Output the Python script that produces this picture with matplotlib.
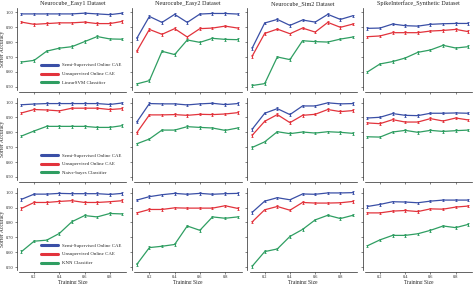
import matplotlib.pyplot as plt
import seaborn as sns
from matplotlib.lines import Line2D

sns.set_style("ticks")
plt.rcParams['font.family'] = ['Liberation Serif', 'DejaVu Serif']

training_size = [0.1, 0.2, 0.3, 0.4, 0.5, 0.6, 0.7, 0.8, 0.9]
datasets = ["Neurocube_Easy1 Dataset", "Neurocube_Easy2 Dataset",
            "Neurocube_Sim2 Dataset", "SpikeInterface_Synthetic Dataset"]
classifiers = ["LinearSVM Classifier", "Naive-bayes Classifier", "KNN Classifier"]
semi_label = "Semi-Supervised Online CAE"
unsup_label = "Unsupervised Online CAE"
err = 0.008

# one list per dataset, in the order of `datasets`
svm_semi = [
    [0.99, 0.99, 0.99, 0.99, 0.99, 0.995, 0.99, 0.985, 0.995],
    [0.826, 0.973, 0.933, 0.987, 0.933, 0.989, 0.993, 0.993, 0.989],
    [0.759, 0.929, 0.953, 0.913, 0.949, 0.935, 0.987, 0.953, 0.978],
    [0.893, 0.895, 0.922, 0.911, 0.908, 0.920, 0.924, 0.926, 0.926],
]
svm_unsup = [
    [0.935, 0.92, 0.925, 0.93, 0.93, 0.935, 0.925, 0.925, 0.94],
    [0.739, 0.886, 0.853, 0.891, 0.835, 0.891, 0.895, 0.908, 0.895],
    [0.705, 0.859, 0.888, 0.857, 0.895, 0.868, 0.933, 0.900, 0.922],
    [0.837, 0.842, 0.864, 0.864, 0.864, 0.875, 0.879, 0.886, 0.871],
]
svm_clf = [
    [0.667, 0.678, 0.740, 0.760, 0.770, 0.804, 0.838, 0.822, 0.820],
    [0.520, 0.542, 0.739, 0.717, 0.815, 0.799, 0.826, 0.819, 0.817],
    [0.509, 0.522, 0.701, 0.683, 0.810, 0.804, 0.801, 0.821, 0.835],
    [0.600, 0.654, 0.670, 0.694, 0.732, 0.748, 0.779, 0.761, 0.770],
]

nb_semi = [
    [0.985, 0.99, 0.993, 0.993, 0.993, 0.993, 0.993, 0.987, 0.997],
    [0.869, 0.993, 0.991, 0.991, 0.984, 0.991, 0.995, 0.986, 0.993],
    [0.820, 0.928, 0.959, 0.919, 0.977, 0.977, 0.998, 0.991, 0.993],
    [0.896, 0.901, 0.926, 0.914, 0.912, 0.928, 0.928, 0.930, 0.928],
]
nb_unsup = [
    [0.930, 0.953, 0.950, 0.944, 0.962, 0.962, 0.962, 0.953, 0.959],
    [0.797, 0.917, 0.917, 0.919, 0.914, 0.921, 0.919, 0.923, 0.932],
    [0.779, 0.874, 0.919, 0.865, 0.914, 0.921, 0.953, 0.939, 0.946],
    [0.863, 0.858, 0.885, 0.869, 0.869, 0.892, 0.876, 0.896, 0.883],
]
nb_clf = [
    [0.775, 0.809, 0.840, 0.840, 0.840, 0.840, 0.833, 0.833, 0.845],
    [0.723, 0.755, 0.815, 0.815, 0.838, 0.833, 0.829, 0.813, 0.829],
    [0.698, 0.736, 0.804, 0.791, 0.802, 0.795, 0.804, 0.800, 0.793],
    [0.770, 0.768, 0.802, 0.813, 0.800, 0.813, 0.806, 0.811, 0.815],
]

knn_semi = [
    [0.955, 0.99, 0.99, 0.995, 0.993, 0.993, 0.993, 0.988, 0.995],
    [0.950, 0.973, 0.986, 0.995, 0.989, 0.995, 0.989, 0.993, 0.995],
    [0.867, 0.943, 0.966, 0.952, 0.991, 0.989, 0.998, 0.998, 1.0],
    [0.907, 0.921, 0.939, 0.937, 0.932, 0.943, 0.950, 0.950, 0.950],
]
knn_unsup = [
    [0.894, 0.934, 0.934, 0.941, 0.946, 0.934, 0.934, 0.939, 0.946],
    [0.864, 0.887, 0.887, 0.898, 0.896, 0.896, 0.896, 0.912, 0.894],
    [0.803, 0.885, 0.907, 0.882, 0.934, 0.930, 0.930, 0.932, 0.941],
    [0.864, 0.864, 0.876, 0.880, 0.873, 0.891, 0.889, 0.903, 0.910],
]
knn_clf = [
    [0.604, 0.674, 0.681, 0.726, 0.805, 0.846, 0.837, 0.860, 0.857],
    [0.518, 0.631, 0.640, 0.652, 0.776, 0.747, 0.837, 0.828, 0.837],
    [0.505, 0.604, 0.622, 0.706, 0.753, 0.817, 0.848, 0.826, 0.848],
    [0.643, 0.683, 0.713, 0.713, 0.724, 0.747, 0.776, 0.765, 0.787],
]

rows = [(svm_semi, svm_unsup, svm_clf),
        (nb_semi, nb_unsup, nb_clf),
        (knn_semi, knn_unsup, knn_clf)]
colors = ["#3a4fa6", "#e2333c", "#2f9e62"]


def main():
    fig, axes = plt.subplots(3, 4, figsize=(4.74, 2.84), dpi=100,
                             sharex=True, sharey=True)
    fig.subplots_adjust(left=0.04, right=0.996, top=0.972, bottom=0.049,
                        wspace=0.075, hspace=0.1)

    for r, series in enumerate(rows):
        for c in range(4):
            ax = axes[r, c]
            for vals, col in zip(series, colors):
                ax.errorbar(training_size, vals[c], yerr=err, color=col,
                            lw=0.9, elinewidth=0.8, capsize=0.8, capthick=0.6)
            ax.set_xlim(0.08, 0.93)
            ax.set_ylim(0.48, 1.03)
            ax.set_yticks([0.5, 0.6, 0.7, 0.8, 0.9, 1.0])
            ax.set_xticks([0.2, 0.4, 0.6, 0.8])
            ax.tick_params(labelsize=3.2, length=1.5, width=0.4, pad=0.8)
            for s in ["left", "bottom"]:
                ax.spines[s].set_linewidth(0.5)
                ax.spines[s].set_position(("outward", 1.5))
            sns.despine(ax=ax)
            if r == 0:
                ax.set_title(datasets[c], fontsize=4.4, pad=2)
            if c == 0:
                ax.set_ylabel("Sorter Accuracy", fontsize=4, labelpad=0.8)
                ax.yaxis.set_major_formatter(plt.FormatStrFormatter("%.2f"))
                handles = [Line2D([], [], color=col, lw=2.2) for col in colors]
                ax.legend(handles, [semi_label, unsup_label, classifiers[r]],
                          loc="lower right", frameon=False, fontsize=3.5,
                          handlelength=3.5, labelspacing=0.9,
                          borderaxespad=0.6)
            if r == 2:
                ax.set_xlabel("Training Size", fontsize=4, labelpad=0.5)

    plt.savefig("out.png", dpi=100)


if __name__ == '__main__':
    main()
